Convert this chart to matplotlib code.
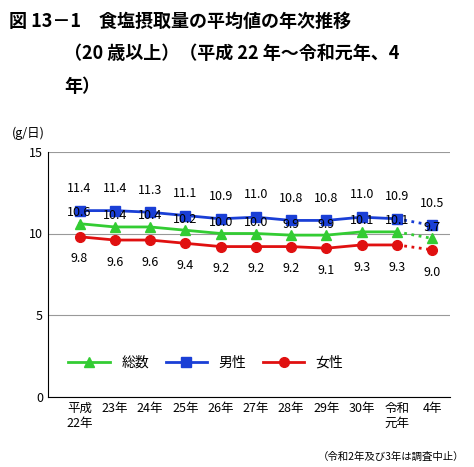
import matplotlib.pyplot as plt

plt.rcParams['font.family'] = ['Noto Sans CJK JP', 'DejaVu Sans']

years = ["平成\n22年", "23年", "24年", "25年", "26年", "27年", "28年", "29年", "30年", "令和\n元年", "4年"]
total = [10.6, 10.4, 10.4, 10.2, 10.0, 10.0, 9.9, 9.9, 10.1, 10.1, 9.7]
male = [11.4, 11.4, 11.3, 11.1, 10.9, 11.0, 10.8, 10.8, 11.0, 10.9, 10.5]
female = [9.8, 9.6, 9.6, 9.4, 9.2, 9.2, 9.2, 9.1, 9.3, 9.3, 9.0]

series = [
    ("総数", total, "#33cc33", "^", 8),
    ("男性", male, "#1a3fd6", "s", 16),
    ("女性", female, "#e01010", "o", -16),
]

fig = plt.figure(figsize=(4.74, 4.67), dpi=100)
ax = fig.add_axes([0.101, 0.150, 0.848, 0.525])
xs = list(range(len(years)))

for name, vals, color, marker, dy in series:
    ax.plot(xs[:10], vals[:10], color=color, marker=marker, markersize=7, linewidth=2, label=name)
    ax.plot(xs[9:], vals[9:], color=color, linestyle=":", linewidth=2)
    ax.plot(xs[10], vals[10], color=color, marker=marker, markersize=7)
    for x, v in zip(xs, vals):
        ax.annotate(f"{v:.1f}", (x, v), xytext=(0, dy), textcoords="offset points",
                    ha="center", va="center", fontsize=9)

ax.set_xlim(-0.9, 10.5)
ax.set_ylim(0, 15)
ax.set_yticks([0, 5, 10, 15])
ax.set_xticks(xs)
ax.set_xticklabels(years, fontsize=9)
ax.tick_params(axis="y", labelsize=9, length=0)
ax.tick_params(axis="x", length=0)
for s in ["top", "right"]:
    ax.spines[s].set_visible(False)
ax.grid(axis="y", color="#999999", linewidth=0.8)
ax.set_axisbelow(True)
ax.text(-0.09, 1.06, "(g/日)", transform=ax.transAxes, fontsize=9)

ax.legend(loc="lower left", bbox_to_anchor=(0.02, 0.06), ncol=3, frameon=False,
          fontsize=10, handlelength=3, columnspacing=1.2)

fig.text(0.02, 0.975, "図 13－1　食塩摂取量の平均値の年次推移", fontsize=13, va="top", fontweight="bold")
fig.text(0.135, 0.905, "（20 歳以上）（平成 22 年～令和元年、4", fontsize=13, va="top", fontweight="bold")
fig.text(0.135, 0.835, "年）", fontsize=13, va="top", fontweight="bold")
fig.text(0.98, 0.01, "（令和2年及び3年は調査中止）", fontsize=7.5, ha="right", va="bottom")

fig.savefig("out.png", dpi=100)
